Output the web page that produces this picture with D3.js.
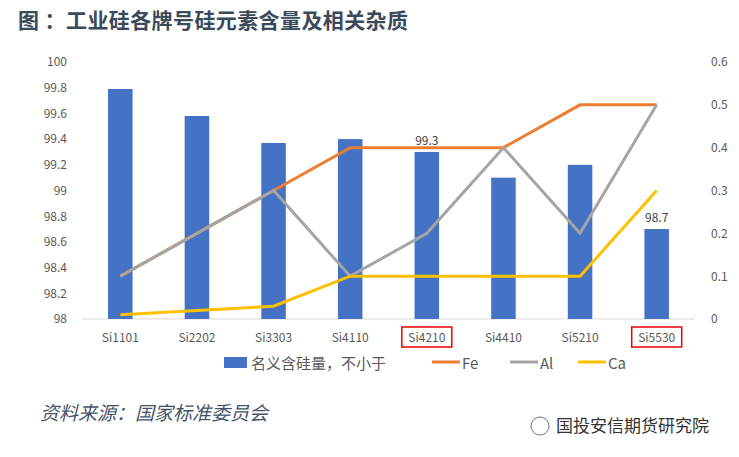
<!DOCTYPE html><html><head><meta charset="utf-8"><script src="https://cdn.jsdelivr.net/npm/d3@7"></script>
<style>body{margin:0;background:#fff}text{font-family:"Noto Sans CJK SC","Noto Sans",sans-serif}</style></head><body>
<svg id="c" width="739" height="457"></svg>
<script>
const categories=["Si1101","Si2202","Si3303","Si4110","Si4210","Si4410","Si5210","Si5530"];
const siContent=[99.79,99.58,99.37,99.4,99.3,99.1,99.2,98.7];
const fe=[0.1,0.2,0.3,0.4,0.4,0.4,0.5,0.5];
const al=[0.1,0.2,0.3,0.1,0.2,0.4,0.2,0.5];
const ca=[0.01,0.02,0.03,0.1,0.1,0.1,0.1,0.3];
const leftTicks=[98,98.2,98.4,98.6,98.8,99,99.2,99.4,99.6,99.8,100];
const rightTicks=[0,0.1,0.2,0.3,0.4,0.5,0.6];
const boxed=["Si4210","Si5530"];
const labeled={"Si4210":"99.3","Si5530":"98.7"};
const svg=d3.select("#c");
svg.append("text").attr("x",18).attr("y",28).attr("font-size",21).attr("font-weight","bold").attr("fill","#3a4a5a").attr("textLength",390).text("图 ：工业硅各牌号硅元素含量及相关杂质");
const x=d3.scaleBand().domain(categories).range([82,695]).paddingInner(0.68).paddingOuter(0.34);
const yL=d3.scaleLinear().domain([98,100]).range([319,62]);
const yR=d3.scaleLinear().domain([0,0.6]).range([319,62]);
const cx=c=>x(c)+x.bandwidth()/2;
svg.append("line").attr("x1",82).attr("x2",695).attr("y1",319).attr("y2",319).attr("stroke","#d9d9d9");
const gl=svg.append("g").attr("transform","translate(70,0)").call(d3.axisLeft(yL).tickValues(leftTicks).tickSize(0).tickFormat(d=>String(+d.toFixed(1))));
const gr=svg.append("g").attr("transform","translate(708,0)").call(d3.axisRight(yR).tickValues(rightTicks).tickSize(0).tickFormat(d=>+d.toFixed(1)));
[gl,gr].forEach(g=>{g.select(".domain").remove();g.selectAll("text").attr("font-size",12).attr("fill","#595959").attr("font-family","Noto Sans, sans-serif");});
svg.selectAll("rect.bar").data(siContent).join("rect").attr("class","bar").attr("x",(d,i)=>x(categories[i])).attr("width",x.bandwidth()).attr("y",d=>yL(d)).attr("height",d=>319-yL(d)).attr("fill","#4472c4");
const line=d3.line().x((d,i)=>cx(categories[i])).y(d=>yR(d));
[[fe,"#ed7d31"],[al,"#a5a5a5"],[ca,"#ffc000"]].forEach(([s,col])=>svg.append("path").attr("d",line(s)).attr("fill","none").attr("stroke",col).attr("stroke-width",3));
categories.forEach((c,i)=>{
 svg.append("text").attr("x",cx(c)).attr("y",342).attr("text-anchor","middle").attr("font-size",12).attr("fill","#595959").attr("font-family","Noto Sans, sans-serif").text(c);
 if(boxed.includes(c))svg.append("rect").attr("x",cx(c)-25).attr("y",327).attr("width",50).attr("height",20).attr("fill","none").attr("stroke","#e00").attr("stroke-width",1.5);
 if(labeled[c])svg.append("text").attr("x",cx(c)).attr("y",yL(siContent[i])-7).attr("text-anchor","middle").attr("font-size",12).attr("fill","#404040").attr("font-family","Noto Sans, sans-serif").text(labeled[c]);
});
const lg=svg.append("g").attr("font-size",15).attr("fill","#595959");
lg.append("rect").attr("x",224).attr("y",357).attr("width",23).attr("height",11).attr("fill","#4472c4");
lg.append("text").attr("x",251).attr("y",369).text("名义含硅量，不小于");
[["Fe","#ed7d31",432],["Al","#a5a5a5",510],["Ca","#ffc000",578]].forEach(([t,c,px])=>{
 lg.append("line").attr("x1",px).attr("x2",px+28).attr("y1",362).attr("y2",362).attr("stroke",c).attr("stroke-width",3);
 lg.append("text").attr("x",px+30).attr("y",369).text(t);
});
svg.append("text").attr("x",40).attr("y",420).attr("font-size",19).attr("font-style","italic").attr("fill","#44546a").text("资料来源：国家标准委员会");
svg.append("circle").attr("cx",540).attr("cy",426).attr("r",9).attr("fill","none").attr("stroke","#777");
svg.append("text").attr("x",556).attr("y",432).attr("font-size",17).attr("fill","#333").text("国投安信期货研究院");
</script></body></html>
